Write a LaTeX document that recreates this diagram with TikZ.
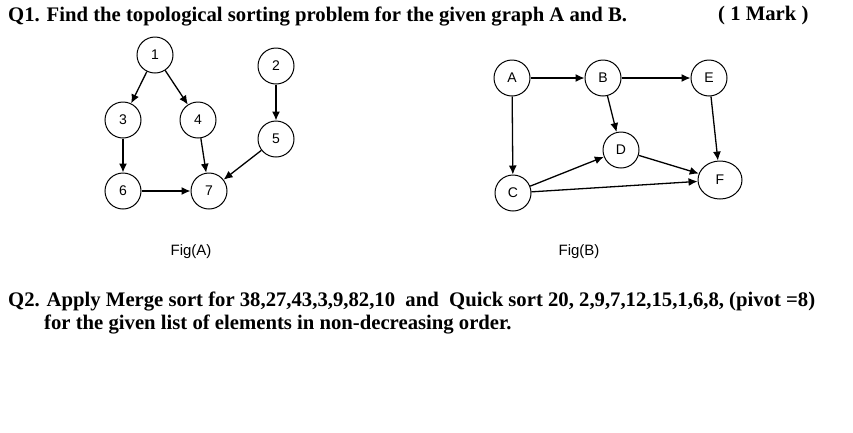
\documentclass[tikz,border=0pt]{standalone}
\usepackage{fontspec}
\usetikzlibrary{shapes.geometric,arrows.meta}
\setmainfont{Liberation Serif}
\newfontfamily\lsans{Liberation Sans}
\begin{document}
\begin{tikzpicture}[x=1pt,y=-1pt,
 vtx/.style={draw,circle,minimum size=36pt,inner sep=0pt,line width=1pt,font=\lsans\fontsize{14}{16}\selectfont},
 arr/.style={-{Latex[length=9pt,width=8pt]},line width=1.3pt},
 q/.style={anchor=west,inner sep=0pt,font=\bfseries\fontsize{20.7}{24}\selectfont}]
\useasboundingbox (0,0) rectangle (853,432);
\node[q] (t1) at (8,16) {Q1. Find the topological sorting problem for the given graph A and B.};
\node[q] (t2) at (718,16) {( 1 Mark )};
\node[vtx] (n1) at (155,55) {1};
\node[vtx] (n2) at (276,66) {2};
\node[vtx] (n3) at (123,120) {3};
\node[vtx] (n4) at (198,120) {4};
\node[vtx] (n5) at (276,139) {5};
\node[vtx] (n6) at (123,191) {6};
\node[vtx] (n7) at (209,191) {7};
\draw[arr] (n1)--(n3); \draw[arr] (n1)--(n4); \draw[arr] (n3)--(n6);
\draw[arr] (n4)--(n7); \draw[arr] (n6)--(n7); \draw[arr] (n5)--(n7); \draw[arr] (n2)--(n5);
\node[vtx] (A) at (512,78) {A};
\node[vtx] (B) at (603,78) {B};
\node[vtx] (E) at (709,78) {E};
\node[vtx] (D) at (621,150) {D};
\node[vtx] (C) at (513,193) {C};
\node[vtx,ellipse,minimum width=44pt,minimum height=38pt] (F) at (720,180) {F};
\draw[arr] (A)--(B); \draw[arr] (B)--(E); \draw[arr] (B)--(D); \draw[arr] (A)--(C);
\draw[arr] (C)--(D); \draw[arr] (D)--(F); \draw[arr] (E)--(F); \draw[arr] (C)--(F);
\node[font=\lsans\fontsize{15}{17}\selectfont] (fa) at (191,252) {Fig(A)};
\node[font=\lsans\fontsize{15}{17}\selectfont] (fb) at (579,252) {Fig(B)};
\node[q] (q2a) at (8,301) {Q2. Apply Merge sort for 38,27,43,3,9,82,10\ \ and\ \ Quick sort 20, 2,9,7,12,15,1,6,8, (pivot =8)};
\node[q] (q2b) at (44,324) {for the given list of elements in non-decreasing order.};
\end{tikzpicture}
\end{document}
